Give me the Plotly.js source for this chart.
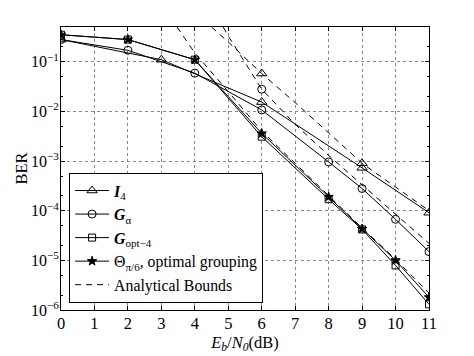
<!DOCTYPE html>
<html>
<head>
<meta charset="utf-8">
<script src="https://cdn.plot.ly/plotly-3.0.1.min.js"></script>
<style>html,body{margin:0;padding:0;background:#fff;}#chart{width:474px;height:356px;}</style>
</head>
<body>
<div id="chart"></div>
<script>
// Simulated BER curves
const x_I4 = [0, 3, 6, 9, 11];
const ber_I4 = [0.28, 0.11, 0.0154, 7.3e-4, 9.1e-5];
const x_Ga = [0, 2, 4, 6, 8, 9, 10, 11];
const ber_Ga = [0.28, 0.17, 0.059, 0.0107, 9.6e-4, 2.8e-4, 6.7e-5, 1.5e-5];
const x_opt = [0, 2, 4, 6, 8, 9, 10, 11];
const ber_opt = [0.35, 0.28, 0.11, 3.1e-3, 1.7e-4, 4.2e-5, 7.9e-6, 1.3e-6];
const x_theta = [0, 2, 4, 6, 8, 9, 10, 11];
const ber_theta = [0.35, 0.28, 0.11, 3.6e-3, 1.9e-4, 4.3e-5, 1.0e-5, 1.8e-6];
// Analytical bounds
const x_bI4 = [4.5, 5, 6, 7, 8, 9, 10, 11];
const ber_bI4 = [0.5, 0.25, 0.058, 0.015, 3.7e-3, 9e-4, 3e-4, 1e-4];
const mark_bI4 = [6, 9];
const x_bGa = [4.85, 5, 6, 7, 8, 9, 10, 11];
const ber_bGa = [0.5, 0.33, 0.028, 5.5e-3, 1.3e-3, 3.4e-4, 8.5e-5, 2.2e-5];
const mark_bGa = [6];
const x_bGrp = [3.47, 4, 5, 6, 7, 8, 9, 10, 11];
const ber_bGrp = [0.5, 0.15, 0.025, 4e-3, 9e-4, 2e-4, 4.5e-5, 1.05e-5, 2.2e-6];
// Axis ticks
const xTicks = [0,1,2,3,4,5,6,7,8,9,10,11];
const yTickExp = [-6,-5,-4,-3,-2,-1];
const yTickText = yTickExp.map(e => '10<sup>\u2212' + Math.abs(e) + '</sup>');
const yTitle = 'BER';
// Legend labels
const names = ['<b><i>I</i></b><sub>4</sub>', '<b><i>G</i></b><sub>\u03b1</sub>',
  '<b><i>G</i></b><sub>opt\u22124</sub>', '\u0398<sub>\u03c0/6</sub>, optimal grouping', 'Analytical Bounds'];

const pick = (xs, ys, sel) => sel.map(v => ys[xs.indexOf(v)]);
const ln = {color: '#000', width: 1};
const lnD = {color: '#000', width: 1, dash: '6px,5px'};
const mk = (sym, sz) => ({symbol: sym, size: sz || 8, color: '#000', line: {color: '#000', width: 1}});

const traces = [
  {x: x_I4, y: ber_I4, name: names[0], mode: 'lines+markers', line: ln, marker: mk('triangle-up-open', 9)},
  {x: x_Ga, y: ber_Ga, name: names[1], mode: 'lines+markers', line: ln, marker: mk('circle-open', 8)},
  {x: x_opt, y: ber_opt, name: names[2], mode: 'lines+markers', line: ln, marker: mk('square-open', 7)},
  {x: x_theta, y: ber_theta, name: names[3], mode: 'lines+markers', line: ln, marker: mk('star', 7)},
  {x: x_bGrp, y: ber_bGrp, name: names[4], mode: 'lines', line: lnD},
  {x: x_bI4, y: ber_bI4, mode: 'lines', line: lnD, showlegend: false},
  {x: x_bGa, y: ber_bGa, mode: 'lines', line: lnD, showlegend: false},
  {x: mark_bI4, y: pick(x_bI4, ber_bI4, mark_bI4), mode: 'markers', marker: mk('triangle-up-open', 9), showlegend: false},
  {x: mark_bGa, y: pick(x_bGa, ber_bGa, mark_bGa), mode: 'markers', marker: mk('circle-open', 8), showlegend: false}
];

const fam = 'Liberation Serif, Times New Roman, serif';
const font = {family: fam, size: 16.5, color: '#000'};
const legFont = {family: fam, size: 15.8, color: '#000'};
const yFont = {family: fam, size: 16, color: '#000'};
const layout = {
  width: 474, height: 356,
  margin: {l: 61, r: 45, t: 27, b: 46},
  paper_bgcolor: '#fff', plot_bgcolor: '#fff',
  font: font,
  showlegend: true,
  legend: {x: 0.022, y: 0.485, xanchor: 'left', yanchor: 'top', bgcolor: '#fff',
    bordercolor: '#000', borderwidth: 1, font: legFont, tracegroupgap: 0, itemwidth: 34},
  xaxis: {
    range: [0, 11], tickvals: xTicks, ticktext: xTicks.map(String),
    ticks: 'inside', ticklen: 4, tickcolor: '#000', mirror: 'allticks',
    showline: true, linecolor: '#000', linewidth: 1,
    showgrid: true, gridcolor: '#888', griddash: 'dot', gridwidth: 1, zeroline: false,
    tickfont: font, ticklabelstandoff: -2,
    title: {text: '<i>E</i><sub><i>b</i></sub>/<i>N</i><sub><i>0</i></sub>(dB)', font: font, standoff: 0}
  },
  yaxis: {
    type: 'log', range: [-6, -0.3],
    tickvals: yTickExp.map(e => Math.pow(10, e)), ticktext: yTickText,
    ticks: 'inside', ticklen: 4, tickcolor: '#000', mirror: 'allticks',
    showline: true, linecolor: '#000', linewidth: 1,
    showgrid: true, gridcolor: '#888', griddash: 'dot', gridwidth: 1, zeroline: false,
    minor: {ticks: 'inside', ticklen: 2, tickcolor: '#000', showgrid: false},
    tickfont: yFont, ticklabelstandoff: -2
  },
  annotations: [{text: yTitle, xref: 'paper', yref: 'paper', x: -0.106, y: 0.5,
    xanchor: 'center', yanchor: 'middle', textangle: -90, showarrow: false, font: font}]
};
Plotly.newPlot('chart', traces, layout, {displayModeBar: false, staticPlot: true});
</script>
</body>
</html>
